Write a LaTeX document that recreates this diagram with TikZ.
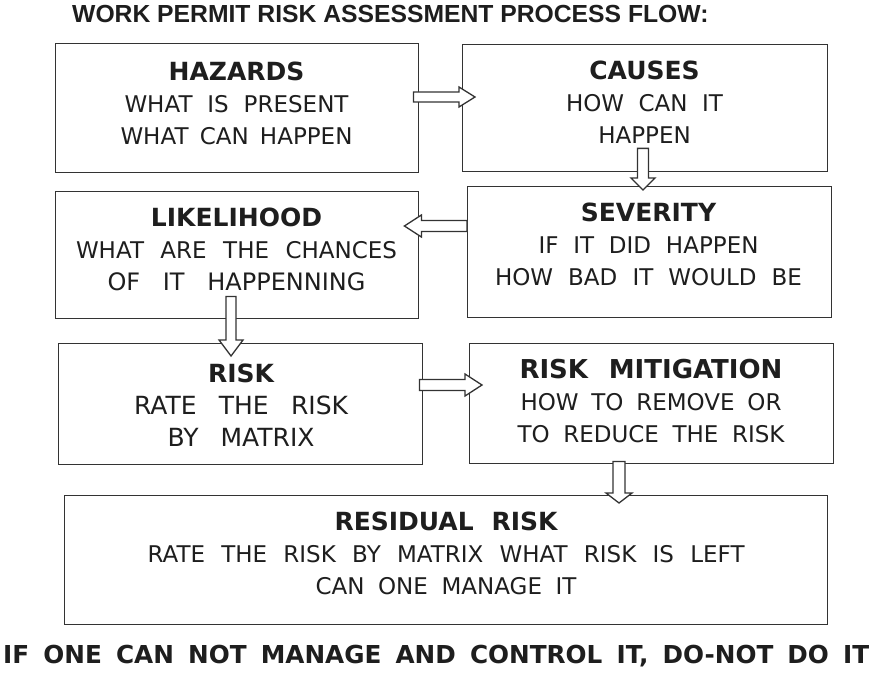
\documentclass[tikz,border=0pt]{standalone}
\usepackage{fontspec}
\setmainfont{DejaVu Sans}
\newfontfamily\titlef{Liberation Sans}
\newfontfamily\bodyf{DejaVu Sans}
\usetikzlibrary{calc}
\definecolor{linec}{HTML}{333333}
\definecolor{textc}{HTML}{1E1E1E}
\newcommand\harr[5]{%
  \draw[blockarrow] let \p1=(#1), \p2=(#2) in
    ({\x1},{\y1+#3}) -- ({\x2-1*(#5)},{\y1+#3}) -- ({\x2-1*(#5)},{\y1+#4}) -- ({\x2},{\y1})
    -- ({\x2-1*(#5)},{\y1-#4}) -- ({\x2-1*(#5)},{\y1-#3}) -- ({\x1},{\y1-#3}) -- cycle;}
\newcommand\varr[5]{%
  \draw[blockarrow] let \p1=(#1), \p2=(#2) in
    ({\x1-#3},{\y1}) -- ({\x1-#3},{\y2+1*(#5)}) -- ({\x1-#4},{\y2+1*(#5)}) -- ({\x1},{\y2})
    -- ({\x1+#4},{\y2+1*(#5)}) -- ({\x1+#3},{\y2+1*(#5)}) -- ({\x1+#3},{\y1}) -- cycle;}
\protected\def\bodyfont{\bodyf\fontsize{23}{32}\selectfont}
\newcommand\lw[2]{\makebox[#1pt][s]{#2}}
% line of given font size and width
\newcommand\lz[3]{{\fontsize{#1}{32}\selectfont\makebox[#2pt][s]{#3}}}
\tikzset{
  box/.style={draw=linec, line width=1.4pt, fill=white, rectangle, inner sep=0pt, anchor=north west},
  txt/.style={align=center, text=textc, inner sep=0pt, font=\bodyfont},
  blockarrow/.style={draw=linec, line width=1.3pt, fill=white, line join=miter},
}
\newcommand\hd[1]{{\bfseries\fontsize{25}{32}\selectfont #1}}
\begin{document}
\begin{tikzpicture}[x=1pt,y=-1pt]
\fill[white] (0,0) rectangle (874,676);
\useasboundingbox (0,0) rectangle (874,676);

\node[anchor=base west, inner sep=0pt, text=textc,
  font=\titlef\bfseries\fontsize{24.7}{30}\selectfont] (title) at (72,23)
  {WORK PERMIT RISK ASSESSMENT PROCESS FLOW:};

% boxes
\node[box, minimum width=363pt, minimum height=129pt] (hz) at (55,43) {};
\node[box, minimum width=365pt, minimum height=127pt] (ca) at (462,44) {};
\node[box, minimum width=363pt, minimum height=127pt] (lk) at (55,191) {};
\node[box, minimum width=364pt, minimum height=131pt] (sv) at (467,186) {};
\node[box, minimum width=364pt, minimum height=121pt] (rk) at (58,343) {};
\node[box, minimum width=364pt, minimum height=120pt] (mt) at (469,343) {};
\node[box, minimum width=763pt, minimum height=129pt] (rs) at (64,495) {};

% texts
\node[txt] (hzt) at (236.5,103) {\hd{HAZARDS}\\\lw{224}{WHAT IS PRESENT}\\\lw{232}{WHAT CAN HAPPEN}};
\node[txt] (cat) at (644.5,102.5) {\hd{CAUSES}\\\lw{157}{HOW CAN IT}\\HAPPEN};
\node[txt] (lkt) at (236.5,249.5) {\hd{LIKELIHOOD}\\\lw{321}{WHAT ARE THE CHANCES}\\\lz{24}{258}{OF IT HAPPENNING}};
\node[txt] (svt) at (648.5,244) {\hd{SEVERITY}\\\lw{220}{IF IT DID HAPPEN}\\\lw{307}{HOW BAD IT WOULD BE}};
\node[txt] (rkt) at (241,405.5) {\hd{RISK}\\\lz{25}{214}{RATE THE RISK}\\\lz{25}{147}{BY MATRIX}};
\node[txt] (mtt) at (651,401.5) {{\bfseries\lz{26}{263}{RISK MITIGATION}}\\\lw{261}{HOW TO REMOVE OR}\\\lw{267}{TO REDUCE THE RISK}};
\node[txt] (rst) at (446,553) {\hd{\lw{223}{RESIDUAL RISK}}\\\lw{597}{RATE THE RISK BY MATRIX WHAT RISK IS LEFT}\\\lw{261}{CAN ONE MANAGE IT}};

% arrow end points
\coordinate (a1s) at ($(hz.north east)+(-6,54)$);
\coordinate (a1t) at ($(ca.north west)+(13,53)$);
\coordinate (a2s) at ($(ca.south west)+(181,-24)$);
\coordinate (a2t) at ($(sv.north west)+(176,4)$);
\coordinate (a3s) at ($(sv.north west)+(0,40)$);
\coordinate (a3t) at ($(lk.north east)+(-15,35)$);
\coordinate (a4s) at ($(lk.south west)+(176,-23)$);
\coordinate (a4t) at ($(rk.north west)+(173,13)$);
\coordinate (a5s) at ($(rk.north east)+(-4,42)$);
\coordinate (a5t) at ($(mt.north west)+(13,42)$);
\coordinate (a6s) at ($(mt.south west)+(150,-3)$);
\coordinate (a6t) at ($(rs.north west)+(555,8)$);

\harr{a1s}{a1t}{5}{10}{16}
\varr{a2s}{a2t}{5.5}{12}{12}
\harr{a3s}{a3t}{5.5}{11}{-17}
\varr{a4s}{a4t}{5}{12}{16}
\harr{a5s}{a5t}{5.5}{11}{17}
\varr{a6s}{a6t}{6}{13}{10}

\node[anchor=base west, inner sep=0pt, text=textc,
  font=\bodyf\bfseries\fontsize{24.7}{30}\selectfont] (note) at (3,663)
  {\makebox[866pt][s]{IF ONE CAN NOT MANAGE AND CONTROL IT, DO-NOT DO IT}};
\end{tikzpicture}
\end{document}
